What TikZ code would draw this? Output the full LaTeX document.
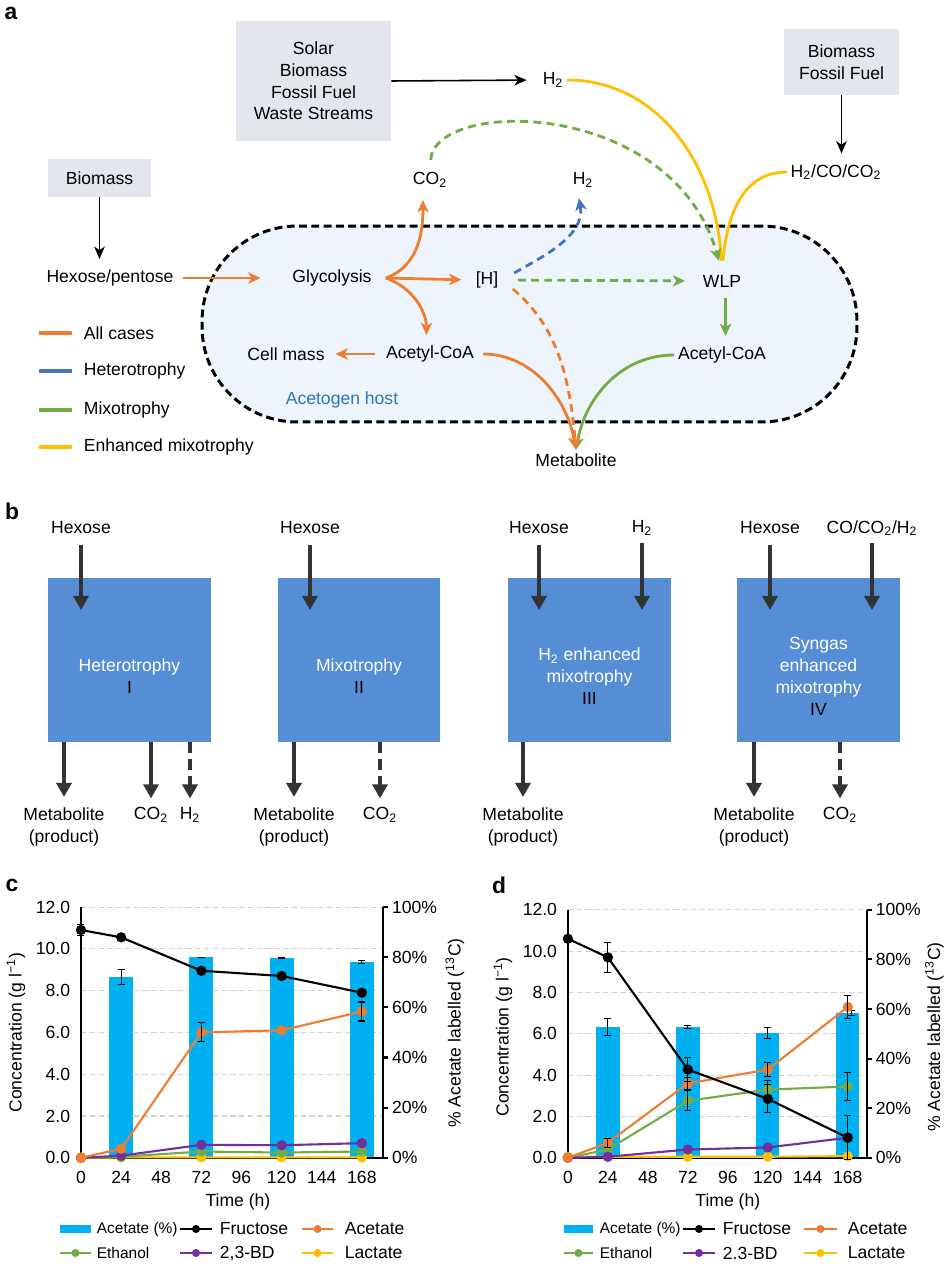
\documentclass[tikz,border=0pt]{standalone}
\usepackage{fontspec}
\setmainfont{Liberation Sans}
\usetikzlibrary{arrows.meta}
\definecolor{allc}{RGB}{237,125,49}
\definecolor{hetc}{RGB}{68,114,196}
\definecolor{mixc}{RGB}{112,173,71}
\definecolor{enhc}{RGB}{255,192,0}
\definecolor{srcgray}{RGB}{227,231,237}
\definecolor{cellfill}{RGB}{237,244,251}
\definecolor{hostblue}{RGB}{46,117,182}
\definecolor{modeblue}{RGB}{85,142,213}
\definecolor{arrgray}{RGB}{51,51,51}
\definecolor{barblue}{RGB}{0,176,240}
\definecolor{bdpurple}{RGB}{112,48,160}
\definecolor{gridgray}{RGB}{210,210,210}
\tikzset{
  src/.style={fill=srcgray, align=center, inner sep=0pt},
  cellbox/.style={draw=black, fill=cellfill, line width=1.7pt, dash pattern=on 4.5pt off 2.5pt, rounded corners=1.9cm, minimum width=13.1cm, minimum height=3.92cm},
  blk/.style={-{Stealth[length=7pt,width=6pt,inset=2pt]}, line width=0.9pt},
  flow/.style={-{Stealth[length=7pt,width=6.5pt,inset=2pt]}, line width=1.6pt},
  dsh/.style={dash pattern=on 4.5pt off 3pt},
  keyline/.style={line width=1.9pt},
  mode/.style={fill=modeblue, minimum width=3.26cm, minimum height=3.28cm, inner sep=0pt},
  modetext/.style={text=white, align=center, font=\fontsize{10}{12.5}\selectfont},
  feed/.style={arrgray, line width=2.8pt, -{Triangle[length=8pt,width=8.5pt]}},
  feeddash/.style={feed, dash pattern=on 6pt off 3.5pt},
  panel/.style={font=\bfseries\fontsize{13}{15}\selectfont},
  ebar/.style={black, line width=0.6pt, {Bar[width=4pt]}-{Bar[width=4pt]}},
  series/.style={line width=1.2pt, mark=*, mark size=2.3pt},
  grid/.style={gridgray, line width=0.6pt, dash pattern=on 3pt off 2pt},
  small/.style={font=\fontsize{8.8}{10}\selectfont}
}
\begin{document}
\begin{tikzpicture}[x=0.02cm,y=0.02cm]
\tikzstyle{every node}+=[inner sep=2pt, font=\fontsize{10}{12.3}\selectfont]
\useasboundingbox (0,0) rectangle (946,-1264);
\fill[white] (0,0) rectangle (946,-1264);

\node[panel] (pa) at (11,-13) {a};
\node[cellbox] (cell) at (529.5,-324) {};
\node[src, minimum width=3.1cm, minimum height=2.4cm] (solar) at (313.5,-81) {Solar\\Biomass\\Fossil Fuel\\Waste Streams};
\node[src, minimum width=2.3cm, minimum height=1.32cm] (fuel) at (841.5,-62) {Biomass\\Fossil Fuel};
\node[src, minimum width=2.06cm, minimum height=0.76cm] (bmass) at (99.5,-178) {Biomass};
\node (htwoin) at (553,-80) {H\textsubscript{2}};
\node (syn) at (836,-172) {H\textsubscript{2}/CO/CO\textsubscript{2}};
\node (hexp) at (110,-278) {Hexose/pentose};
\node (glyc) at (332,-278) {Glycolysis};
\node (hred) at (487,-280) {[H]};
\node (wlp) at (722,-281) {WLP};
\node (cotwo) at (430,-180) {CO\textsubscript{2}};
\node (htwoout) at (583,-180) {H\textsubscript{2}};
\node (cellm) at (286,-354) {Cell mass};
\node (acoal) at (430,-354) {Acetyl-CoA};
\node (acoar) at (722,-355) {Acetyl-CoA};
\node[text=hostblue] (host) at (342,-400) {Acetogen host};
\node (metab) at (576,-460) {Metabolite};

\draw[blk, shorten >=7pt] (solar.east) -- (htwoin.west);
\draw[blk, shorten >=4pt] (fuel.south) -- (fuel.south |- syn.north);
\draw[blk, shorten >=4pt] (bmass.south) -- (bmass.south |- hexp.north);
\draw[enhc, line width=1.6pt, shorten >=6pt] (htwoin.east) .. controls (655,-80) and (716,-160) .. (wlp.north);
\draw[enhc, line width=1.6pt, shorten >=6pt] (syn.west) .. controls (748,-172) and (728,-205) .. (wlp.north);
\draw[flow, mixc, dsh, shorten <=5pt, shorten >=6pt] (cotwo.north) .. controls (435,-98) and (672,-98) .. (wlp.north);
\draw[flow, allc, shorten <=3pt, shorten >=16pt] (hexp.east) -- (glyc.west);
\draw[flow, allc, shorten >=6pt] ([xshift=6pt]glyc.east) -- (hred.west);
\draw[flow, allc, shorten >=5pt] ([xshift=6pt]glyc.east) to[out=20,in=-90] ([xshift=-4pt]cotwo.south);
\draw[flow, allc, shorten >=4pt] ([xshift=6pt]glyc.east) to[out=-20,in=90] ([xshift=-2pt]acoal.north);
\draw[flow, allc, shorten <=4pt, shorten >=4pt] (acoal.west) -- (cellm.east);
\draw[flow, hetc, dsh, shorten <=8pt, shorten >=4pt] (hred.east) to[out=30,in=-80] ([xshift=-3pt]htwoout.south);
\draw[flow, mixc, dsh, shorten <=9pt, shorten >=8pt] (hred.east) -- (wlp.west);
\draw[flow, mixc, shorten <=4pt, shorten >=4pt] ([xshift=2pt]wlp.south) -- ([xshift=2pt]acoar.north);
\draw[flow, mixc] (acoar.west) to[out=180,in=80] (metab.north);
\draw[flow, allc, dsh, shorten <=8pt] (hred.east) to[out=-40,in=95] (metab.north);
\draw[flow, allc, shorten <=3pt] (acoal.east) to[out=0,in=100] (metab.north);

\draw[keyline, allc] (39,-333) -- (72,-333);
\node[anchor=west] (kall) at (80,-333) {All cases};
\draw[keyline, hetc] (39,-371) -- (72,-371);
\node[anchor=west] (khet) at (80,-371) {Heterotrophy};
\draw[keyline, mixc] (39,-410) -- (72,-410);
\node[anchor=west] (kmix) at (80,-410) {Mixotrophy};
\draw[keyline, enhc] (39,-447) -- (72,-447);
\node[anchor=west] (kenh) at (80,-447) {Enhanced mixotrophy};

\node[panel] (pb) at (12,-511) {b};
\node[mode] (het) at (129.5,-660) {};
\node[mode] (mix) at (359,-660) {};
\node[mode] (htwo) at (589.5,-660) {};
\node[mode] (syng) at (818.5,-660) {};
\node[modetext] (thet) at (129.5,-676) {Heterotrophy\\\textcolor{black}{I}};
\node[modetext] (tmix) at (359,-676) {Mixotrophy\\\textcolor{black}{II}};
\node[modetext] (thtwo) at (589.5,-676) {H\textsubscript{2} enhanced\\mixotrophy\\\textcolor{black}{III}};
\node[modetext] (tsyng) at (818.5,-676) {Syngas\\enhanced\\mixotrophy\\\textcolor{black}{IV}};
\node (hexI) at (81,-528) {Hexose};
\node (hexII) at (310,-528) {Hexose};
\node (hexIII) at (539,-528) {Hexose};
\node (htIII) at (642,-528) {H\textsubscript{2}};
\node (hexIV) at (770,-528) {Hexose};
\node (synIV) at (872,-528) {CO/CO\textsubscript{2}/H\textsubscript{2}};
\node[anchor=north, align=center] (metI) at (64,-804) {Metabolite\\(product)};
\node[anchor=north, align=center] (metII) at (294,-804) {Metabolite\\(product)};
\node[anchor=north, align=center] (metIII) at (523,-804) {Metabolite\\(product)};
\node[anchor=north, align=center] (metIV) at (754,-804) {Metabolite\\(product)};
\node (coI) at (151,-815) {CO\textsubscript{2}};
\node (htI) at (190,-815) {H\textsubscript{2}};
\node (coII) at (380,-815) {CO\textsubscript{2}};
\node (coIV) at (840,-815) {CO\textsubscript{2}};
\draw[feed, shorten <=4pt] (hexI.south) -- (hexI.south |- 0,-610);
\draw[feed, shorten <=4pt] (hexII.south) -- (hexII.south |- 0,-610);
\draw[feed, shorten <=4pt] (hexIII.south) -- (hexIII.south |- 0,-610);
\draw[feed, shorten <=2pt] (htIII.south) -- (htIII.south |- 0,-610);
\draw[feed, shorten <=4pt] (hexIV.south) -- (hexIV.south |- 0,-610);
\draw[feed, shorten <=2pt] (synIV.south) -- (synIV.south |- 0,-610);
\draw[feed, shorten >=4pt] (metI.north |- het.south) -- (metI.north);
\draw[feed, shorten >=3pt] (coI.north |- het.south) -- (coI.north);
\draw[feeddash, shorten >=3pt] (htI.north |- het.south) -- (htI.north);
\draw[feed, shorten >=4pt] (metII.north |- mix.south) -- (metII.north);
\draw[feeddash, shorten >=3pt] (coII.north |- mix.south) -- (coII.north);
\draw[feed, shorten >=4pt] (metIII.north |- htwo.south) -- (metIII.north);
\draw[feed, shorten >=4pt] (metIV.north |- syng.south) -- (metIV.north);
\draw[feeddash, shorten >=3pt] (coIV.north |- syng.south) -- (coIV.north);

\node[panel] (pc) at (12,-885) {c};
\begin{scope}[shift={(1.62cm,-23.16cm)}, x=0.033452cm, y=0.418cm]
\foreach \v in {2,4,...,12} \draw[grid] (0,\v) -- (180.6,\v);
\fill[barblue] (16.8,0) rectangle (31.2,8.65);
\fill[barblue] (64.8,0) rectangle (79.2,9.6);
\fill[barblue] (112.8,0) rectangle (127.2,9.56);
\fill[barblue] (160.8,0) rectangle (175.2,9.37);
\draw[ebar] (24,8.27) -- (24,9.03);
\draw[ebar] (72,9.57) -- (72,9.63);
\draw[ebar] (120,9.54) -- (120,9.58);
\draw[ebar] (168,9.29) -- (168,9.45);
\draw[line width=1.2pt] (0,12) -- (0,0) -- (180.6,0) -- (180.6,12);
\foreach \p in {0,20,...,100} {
  \draw[line width=1.2pt] (180.6,\p*0.12) -- ++(3pt,0);
  \node[anchor=west, xshift=3pt] at (180.6,\p*0.12) {\p\%};
}
\foreach \v/\t in {0/0.0,2/2.0,4/4.0,6/6.0,8/8.0,10/10.0,12/12.0}
  \node[anchor=east, xshift=-4pt] at (0,\v) {\t};
\foreach \h in {0,24,...,168}
  \node[anchor=north, yshift=-5.5pt] at (\h,0) {\h};
\node at (93.9,-2.1) {Time (h)};
\node[rotate=90] at (-38.9,5.98) {Concentration (g l\textsuperscript{−1})};
\node[rotate=90] at (223.6,5.98) {\% Acetate labelled (\textsuperscript{13}C)};
\draw[series, enhc] plot coordinates {(0,0) (24,0.02) (72,0.02) (120,0.02) (168,0.02)};
\draw[series, mixc] plot coordinates {(0,0) (24,0.05) (72,0.3) (120,0.25) (168,0.3)};
\draw[series, bdpurple] plot coordinates {(0,0) (24,0.1) (72,0.62) (120,0.6) (168,0.7)};
\draw[series, allc] plot coordinates {(0,0) (24,0.43) (72,6.0) (120,6.1) (168,7.0)};
\draw[series, black] plot coordinates {(0,10.9) (24,10.55) (72,8.95) (120,8.7) (168,7.9)};
\draw[ebar] (0,10.6) -- (0,11.2);
\draw[ebar] (24,10.38) -- (24,10.72);
\draw[ebar] (72,5.52) -- (72,6.48);
\draw[ebar] (168,6.52) -- (168,7.48);
\end{scope}
\fill[barblue] (60,-1225) rectangle (91,-1233);
\node[small, anchor=west] (lcbar) at (93,-1229) {Acetate (\%)};
\draw[line width=1.2pt, black] (180,-1229) -- (212,-1229);
\fill[black] (196,-1229) circle (2.3pt);
\node[anchor=west] (lcfru) at (216,-1229) {Fructose};
\draw[line width=1.2pt, allc] (302,-1229) -- (333,-1229);
\fill[allc] (317.5,-1229) circle (2.3pt);
\node[anchor=west] (lcace) at (341,-1229) {Acetate};
\draw[line width=1.2pt, mixc] (60,-1253) -- (91,-1253);
\fill[mixc] (75.5,-1253) circle (2.3pt);
\node[small, anchor=west] (lceth) at (93,-1253) {Ethanol};
\draw[line width=1.2pt, bdpurple] (180,-1253) -- (212,-1253);
\fill[bdpurple] (196,-1253) circle (2.3pt);
\node[anchor=west] (lcbd) at (216,-1253) {2,3-BD};
\draw[line width=1.2pt, enhc] (302,-1253) -- (333,-1253);
\fill[enhc] (317.5,-1253) circle (2.3pt);
\node[anchor=west] (lclac) at (341,-1253) {Lactate};

\node[panel] (pd) at (499,-885) {d};
\begin{scope}[shift={(11.36cm,-23.16cm)}, x=0.03333cm, y=0.4133cm]
\foreach \v in {2,4,...,12} \draw[grid] (0,\v) -- (179.4,\v);
\fill[barblue] (17,0) rectangle (31,6.34);
\fill[barblue] (65,0) rectangle (79,6.34);
\fill[barblue] (113,0) rectangle (127,6.05);
\fill[barblue] (161,0) rectangle (175,7.0);
\draw[ebar] (24,5.91) -- (24,6.77);
\draw[ebar] (72,6.24) -- (72,6.44);
\draw[ebar] (120,5.75) -- (120,6.35);
\draw[ebar] (170,6.85) -- (170,7.15);
\draw[line width=1.2pt] (0,12) -- (0,0) -- (179.4,0) -- (179.4,12);
\foreach \p in {0,20,...,100} {
  \draw[line width=1.2pt] (179.4,\p*0.12) -- ++(3pt,0);
  \node[anchor=west, xshift=3pt] at (179.4,\p*0.12) {\p\%};
}
\foreach \v/\t in {0/0.0,2/2.0,4/4.0,6/6.0,8/8.0,10/10.0,12/12.0}
  \node[anchor=east, xshift=-4pt] at (0,\v) {\t};
\foreach \h in {0,24,...,168}
  \node[anchor=north, yshift=-5.5pt] at (\h,0) {\h};
\node at (96,-2.13) {Time (h)};
\node[rotate=90] at (-39,5.85) {Concentration (g l\textsuperscript{−1})};
\node[rotate=90] at (220,5.85) {\% Acetate labelled (\textsuperscript{13}C)};
\draw[series, enhc] plot coordinates {(0,0.05) (24,0.05) (72,0.05) (120,0.05) (168,0.08)};
\draw[series, mixc] plot coordinates {(0,0) (24,0.4) (72,2.76) (120,3.3) (168,3.45)};
\draw[series, bdpurple] plot coordinates {(0,0) (24,0.05) (72,0.4) (120,0.5) (168,0.97)};
\draw[series, allc] plot coordinates {(0,0) (24,0.73) (72,3.6) (120,4.27) (168,7.3)};
\draw[series, black] plot coordinates {(0,10.6) (24,9.7) (72,4.27) (120,2.85) (168,0.97)};
\draw[ebar] (24,8.95) -- (24,10.45);
\draw[ebar] (72,3.67) -- (72,4.87);
\draw[ebar] (120,2.15) -- (120,3.55);
\draw[ebar] (168,-0.13) -- (168,2.07);
\draw[ebar] (24,0.48) -- (24,0.98);
\draw[ebar] (72,3.3) -- (72,3.9);
\draw[ebar] (120,3.92) -- (120,4.62);
\draw[ebar] (168,6.7) -- (168,7.9);
\draw[ebar] (72,2.26) -- (72,3.26);
\draw[ebar] (120,2.85) -- (120,3.75);
\draw[ebar] (168,2.75) -- (168,4.15);
\end{scope}
\fill[barblue] (564,-1225) rectangle (593,-1233);
\node[small, anchor=west] (ldbar) at (596,-1229) {Acetate (\%)};
\draw[line width=1.2pt, black] (683,-1229) -- (715,-1229);
\fill[black] (699,-1229) circle (2.3pt);
\node[anchor=west] (ldfru) at (719,-1229) {Fructose};
\draw[line width=1.2pt, allc] (804,-1229) -- (837,-1229);
\fill[allc] (820.5,-1229) circle (2.3pt);
\node[anchor=west] (ldace) at (844,-1229) {Acetate};
\draw[line width=1.2pt, mixc] (564,-1253) -- (593,-1253);
\fill[mixc] (578.5,-1253) circle (2.3pt);
\node[small, anchor=west] (ldeth) at (596,-1253) {Ethanol};
\draw[line width=1.2pt, bdpurple] (683,-1253) -- (715,-1253);
\fill[bdpurple] (699,-1253) circle (2.3pt);
\node[anchor=west] (ldbd) at (719,-1253) {2.3-BD};
\draw[line width=1.2pt, enhc] (804,-1253) -- (837,-1253);
\fill[enhc] (820.5,-1253) circle (2.3pt);
\node[anchor=west] (ldlac) at (844,-1253) {Lactate};
\end{tikzpicture}
\end{document}
